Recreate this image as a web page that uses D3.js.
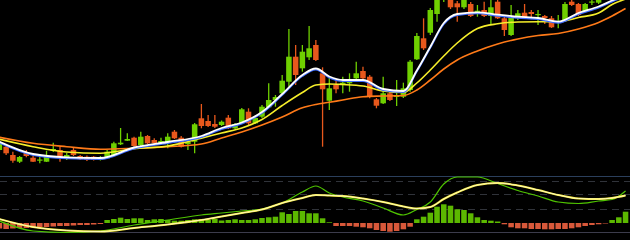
<!DOCTYPE html>
<html>
<head>
<meta charset="utf-8">
<script src="https://cdn.jsdelivr.net/npm/d3@7"></script>
<style>
  html, body { margin: 0; padding: 0; background: #000; }
  svg { display: block; }
</style>
</head>
<body>
<div id="chart"></div>
<script>
// candles (price units)
const opens = [50, 53.3, 45, 38.3, 47, 42.3, 39.5, 38.3, 49, 50, 43, 50, 44, 43.3, 43.3, 40, 41.7, 45, 55.7, 59.3,
  62.3, 55, 64, 60, 57, 57.7, 68.3, 62.3, 56, 58.3, 81.7, 79, 76, 75, 82.3, 71.7, 76.7, 88.3, 76.7, 83.3,
  92.7, 100, 106.7, 118.3, 143.3, 131.7, 142.7, 155, 126.7, 99.3, 115, 116, 116.7, 121.7, 129, 123.3, 100.7, 96.7, 106.7, 103,
  103.3, 110, 140.7, 161.7, 167.3, 186, 203, 202, 196.7, 192.7, 196, 186, 190, 184, 198.3, 181.7, 165, 181.7, 187.3, 188,
  185, 184, 181.7, 177.5, 179.3, 198.3, 196, 188.3, 197.5, 197.3, 202, 205, 208, 210];
const highs = [60, 56, 48.3, 44, 50, 44, 43.3, 49.3, 57.3, 53.3, 47, 52, 45, 44.5, 44, 44, 50, 58.3, 72, 66.7,
  63.3, 68.3, 65, 61.7, 62.3, 66.7, 70, 64, 60, 77, 96, 85, 85, 79.5, 85, 77, 92, 91.7, 83.5, 95,
  116.7, 105, 125, 171, 155, 155, 174, 160, 132.7, 123.3, 120, 123.3, 126.7, 138.3, 133.3, 125, 102, 123.3, 109, 120,
  117.3, 140, 167, 181.7, 192, 205, 217, 204, 199, 205, 198, 195, 198.3, 200, 200, 183, 195, 190, 196, 190,
  190, 185, 184, 185, 198, 201, 197, 197, 201, 207, 212, 217, 222, 227];
const lows = [48, 45, 37.3, 37, 42.7, 38, 36.7, 38, 48, 38.3, 40, 44, 40, 39, 39.5, 39.5, 41, 44, 55, 59,
  53.3, 54, 56, 56, 56.7, 51.7, 61, 52.5, 50, 46.7, 71.7, 73, 72, 74, 71, 71, 76, 75, 76, 82,
  92, 93.3, 106, 113.3, 115, 128.3, 140, 139, 53.3, 90, 106.7, 106.7, 108.3, 120, 120, 101.7, 91.7, 96, 99, 94,
  102, 108.3, 140, 150, 165, 178.3, 198, 191, 178.3, 191, 183, 183.3, 183, 176, 181, 164, 164, 180, 181, 180.7,
  175, 176, 172, 171.7, 179, 194, 184, 188, 195, 196, 200, 203, 206, 208];
const closes = [57, 46.7, 39.3, 43, 44, 38.3, 40.5, 44, 51, 43.3, 45, 45, 40.7, 40, 40, 42.7, 48.3, 56.7, 57.3, 61,
  54, 63.3, 56.7, 56.7, 59, 63.3, 61.7, 53.3, 58, 75.7, 74, 74, 73.3, 78.3, 71.7, 76, 90.7, 76.7, 82, 93.3,
  100, 103, 119.3, 143.3, 125, 148.3, 151.7, 140, 110.7, 111.7, 110.7, 117.3, 118.3, 126.7, 121.7, 104, 94.3, 106.7, 100, 105,
  111.7, 138.3, 164, 151.7, 190, 203, 215, 192.7, 192.7, 203, 184, 189.3, 184, 192.7, 181.7, 170, 183.3, 186.7, 181.7, 186,
  186, 182, 172.7, 179, 196, 195, 185, 196, 198.5, 205, 210, 215, 220, 225];

// moving averages, read at these candle indices
const maIdx = [0, 5, 10, 15, 20, 25, 30, 33, 36, 39, 42, 45, 47, 49, 51, 54, 57, 60, 62, 64, 66, 68, 71, 74, 77, 80, 83, 86, 89, 91, 93];
const ma5 = [58.3, 46, 42.7, 42, 52.5, 58, 64, 72, 77.5, 88, 106, 125, 131.5, 123.5, 120, 120, 111, 109, 129.5, 153.3, 177, 186, 187.7, 185.3, 183.3, 182, 178.3, 187, 193.5, 199.5, 205];
const ma10 = [60.7, 53.3, 48, 46.7, 51.2, 54, 61.8, 67, 72, 80.5, 94.5, 107.5, 115, 116, 115.5, 114, 109, 107.5, 117, 130, 144, 157, 171.5, 176.2, 178, 178.3, 178.3, 182.5, 187, 195.5, 201];
const ma30 = [62.7, 56.7, 53.3, 50.7, 51.7, 53.3, 56, 62, 68, 75, 83, 92.2, 95.5, 97.7, 100, 103.3, 104, 104.5, 110, 120, 131, 140, 149, 156, 161, 164.5, 166.5, 171, 177.5, 184, 191.5];

// MACD
const dif = [2, -8, -9.5, -8, -2, 3, 8, 10, 12, 14, 20, 31, 37, 30, 26, 22, 15, 8, 13.5, 21, 39, 46, 46, 39.5, 32.5, 27, 21, 19.5, 22, 23.5, 32];
const dea = [4, -4, -7.5, -8.5, -5, -1.5, 3, 6.5, 10, 13.5, 20, 25, 28, 27.5, 27, 24.5, 21, 16.5, 14.5, 16, 24, 30.5, 38, 40, 37.5, 33, 28, 24.5, 24, 25, 27.5];
const hist = [-5.5, -6, -5.5, -5, -5, -4.5, -4, -4, -3.5, -3, -3, -2.5, -2, -2, -1.5, -1, 3, 4, 5.3, 4,
  4.7, 4.7, 3, 3.7, 4, 3, 2.3, 2.3, 3, 3.7, 3.7, 3, 4, 2.5, 3, 3.7, 3, 3, 3.7, 5,
  5.7, 6.3, 10.7, 9, 12, 12, 9.7, 9.7, 4.7, 0.7, -3, -3, -3, -3.7, -4.3, -5.3, -7, -8, -8.7, -8,
  -6.3, -3.7, 3.7, 6.3, 10.3, 16.3, 18.7, 17.3, 13.7, 13, 9.7, 5.7, 3, 2.3, 1.5, -1.3, -4.3, -5.3, -5.3, -6,
  -6, -6.3, -6.3, -6, -6, -5.3, -4.3, -3, -2, -1.3, -0.5, 3, 5.7, 11.3];
const macdGrid = [14.5, 29, 42.5];

const width = 630, height = 240;
const n = opens.length;
const step = 6.72;

const svg = d3.select("#chart").append("svg")
  .attr("width", width).attr("height", height)
  .style("background", "#000");

const x = d3.scaleBand().domain(d3.range(n))
  .range([-step / 2, n * step - step / 2]).paddingInner(0.18);
const cx = (i) => x(i) + x.bandwidth() / 2;

const y = d3.scaleLinear().domain([0, 200]).range([200, 0]);
const ym = d3.scaleLinear().domain([-10, 47]).range([233, 176]);

const up = "#6fd000", down = "#e8581c";

/* MACD PANEL FRAME */
svg.append("line").attr("x1", 0).attr("x2", width)
  .attr("y1", ym(47) + 0.5).attr("y2", ym(47) + 0.5)
  .attr("stroke", "#2b3f5c").attr("stroke-width", 1.2);
svg.append("line").attr("x1", 0).attr("x2", width)
  .attr("y1", ym(-10) - 0.5).attr("y2", ym(-10) - 0.5)
  .attr("stroke", "#3c3c4c").attr("stroke-width", 1.2);
svg.append("g").selectAll("line").data(macdGrid).join("line")
  .attr("x1", 0).attr("x2", width)
  .attr("y1", (d) => Math.round(ym(d)) + 0.5).attr("y2", (d) => Math.round(ym(d)) + 0.5)
  .attr("stroke", "#30333a").attr("stroke-dasharray", "7,5");

/* CANDLES */
const candles = svg.append("g").selectAll("g").data(d3.range(n)).join("g");
candles.append("line")
  .attr("x1", cx).attr("x2", cx)
  .attr("y1", (i) => y(highs[i])).attr("y2", (i) => y(lows[i]))
  .attr("stroke", (i) => closes[i] >= opens[i] ? up : down)
  .attr("stroke-width", 1.3);
candles.append("rect")
  .attr("x", (i) => x(i))
  .attr("width", x.bandwidth())
  .attr("y", (i) => y(Math.max(opens[i], closes[i])))
  .attr("height", (i) => Math.max(1.2, Math.abs(y(opens[i]) - y(closes[i]))))
  .attr("fill", (i) => closes[i] >= opens[i] ? up : down);

/* MOVING AVERAGES */
const maLine = (vals) => d3.line()
  .x((d, k) => cx(maIdx[k]))
  .y((d) => y(d))
  .curve(d3.curveMonotoneX)(vals);

svg.append("path").attr("d", maLine(ma30)).attr("fill", "none")
  .attr("stroke", "#ff7a18").attr("stroke-width", 1.6);
svg.append("path").attr("d", maLine(ma10)).attr("fill", "none")
  .attr("stroke", "#f6ee2a").attr("stroke-width", 1.6);
svg.append("path").attr("d", maLine(ma5)).attr("fill", "none")
  .attr("transform", "translate(0,1.2)")
  .attr("stroke", "#3f6cff").attr("stroke-width", 1.6);
svg.append("path").attr("d", maLine(ma5)).attr("fill", "none")
  .attr("stroke", "#ffffff").attr("stroke-width", 1.8);

/* MACD HISTOGRAM */
svg.append("g").selectAll("rect").data(hist).join("rect")
  .attr("x", (d, i) => x(i))
  .attr("width", x.bandwidth())
  .attr("y", (d) => ym(Math.max(0, d)))
  .attr("height", (d) => Math.abs(ym(d) - ym(0)))
  .attr("fill", (d) => d >= 0 ? "#5cb800" : "#d8583a");

/* MACD LINES */
const macdLine = (vals) => d3.line()
  .x((d, k) => cx(maIdx[k]))
  .y((d) => ym(d))
  .curve(d3.curveMonotoneX)(vals);

svg.append("path").attr("d", macdLine(dif)).attr("fill", "none")
  .attr("stroke", "#4fc400").attr("stroke-width", 1.2);
svg.append("path").attr("d", macdLine(dea)).attr("fill", "none")
  .attr("stroke", "#f5e83a").attr("stroke-width", 2);
svg.append("path").attr("d", macdLine(dea)).attr("fill", "none")
  .attr("stroke", "#ffffe0").attr("stroke-width", 0.8);
</script>
</body>
</html>
